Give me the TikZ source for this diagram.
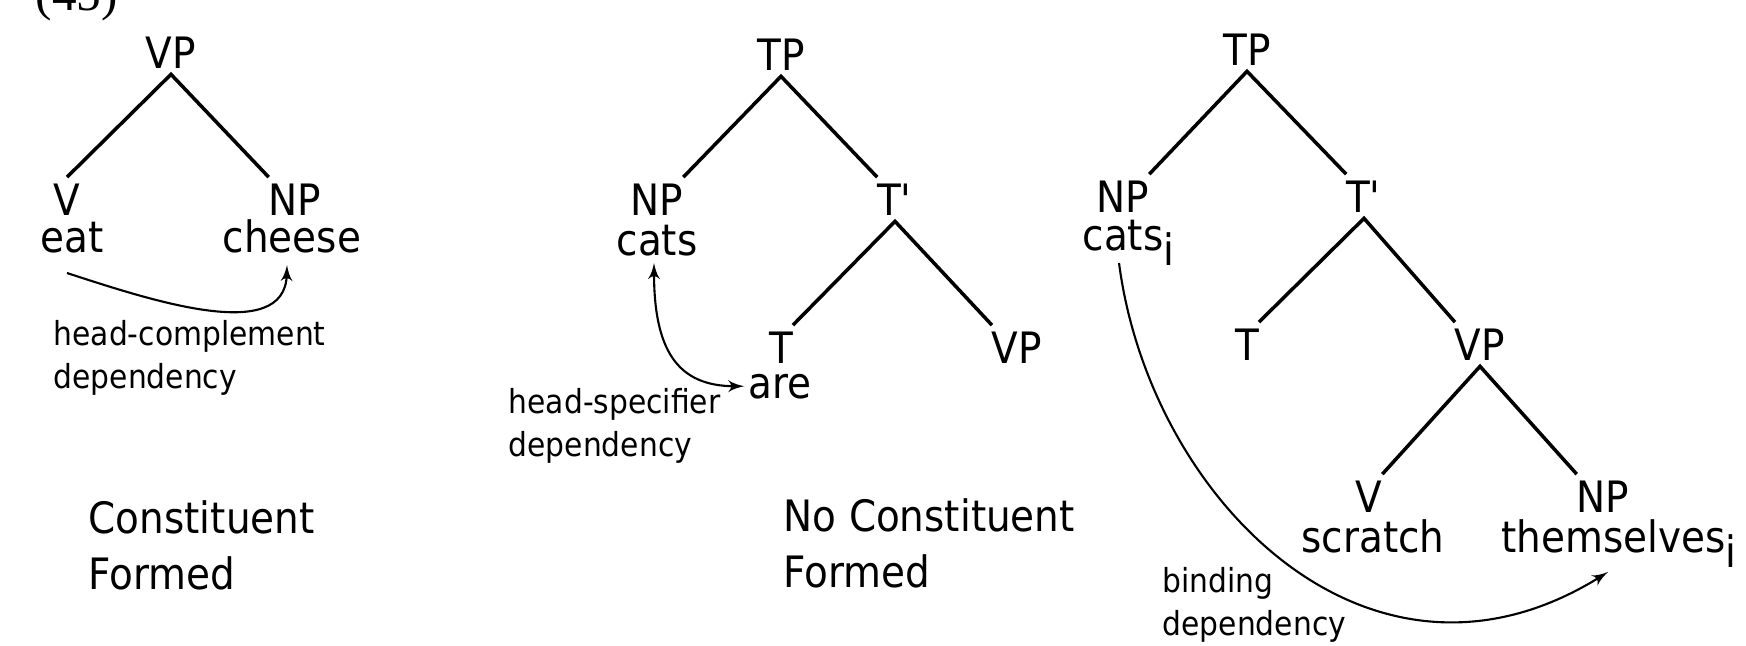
\documentclass[tikz,border=0pt]{standalone}
\usepackage{fontspec}
\setmainfont{DejaVu Sans}[FakeStretch=0.9]
\newfontfamily\exfont{Liberation Serif}
\usepackage{tikz}
\usetikzlibrary{arrows}

\newcommand\treefont{\fontsize{12.3}{15}\selectfont}
\newcommand\notefont{\fontsize{9.4}{12.2}\selectfont}
\newcommand\capfont{\fontsize{12.3}{15.8}\selectfont}
\newcommand\idx{\raisebox{-0.35em}{i}}

\begin{document}
\begin{tikzpicture}[>=latex', x=0.01cm, y=-0.01cm,
  cat/.style={font=\treefont, inner sep=0pt, outer xsep=0pt, outer ysep=1.8pt, anchor=base},
  word/.style={font=\treefont, inner sep=0pt, anchor=base},
  note/.style={font=\notefont, inner sep=0pt, align=left, anchor=north west},
  caption/.style={font=\capfont, inner sep=0pt, align=left, anchor=north west},
  branch/.style={line width=1pt},
  dep/.style={line width=0.6pt}]
  \useasboundingbox (0,0) rectangle (1746,645);
  \node[anchor=base west, inner sep=0pt, font=\exfont\fontsize{14}{16}\selectfont] (exnum) at (35,10) {(45)};

  % constituent formed
  \node[cat] (vp1) at (171,68) {VP};
  \node[cat] (v1) at (67,215) {V};
  \node[cat] (np1) at (295,215) {NP};
  \node[word] (eat) at (72,252) {eat};
  \node[word] (cheese) at (292,252) {cheese};
  \draw[branch] (v1.north) -- (vp1.south) -- (np1.north west);
  \draw[dep,->] ([shift={(-5,21)}]eat.base) .. controls +(83,27) and +(-2,80) .. ([shift={(-5,13)}]cheese.base);
  \node[note] (hc) at (53,320) {head-complement\\dependency};
  \node[caption] (form1) at (88,500) {Constituent\\Formed};

  % no constituent formed
  \node[cat] (tp2) at (781,70) {TP};
  \node[cat] (np2) at (657,215) {NP};
  \node[word] (cats2) at (657,255) {cats};
  \node[cat] (tb2) at (895,215) {T\textquotesingle};
  \node[cat] (t2) at (781,363) {T};
  \node[word] (are) at (780,398) {are};
  \node[cat] (vp2) at (1017,363) {VP};
  \draw[branch] (np2.north east) -- (tp2.south) -- (tb2.north west);
  \draw[branch] (t2.north east) -- (tb2.south) -- (vp2.north west);
  \draw[dep,<->] ([shift={(-3,8)}]cats2.base) .. controls +(0,87) and +(-67,0) .. ([xshift=-1pt]are.west);
  \node[note] (hs) at (508,388) {head-specifier\\dependency};
  \node[caption] (form2) at (783,498) {No Constituent\\Formed};

  % binding
  \node[cat] (tp3) at (1247,65) {TP};
  \node[cat] (np3) at (1123,212) {NP};
  \node[word, anchor=base west] (cats3) at (1082,250) {cats\idx};
  \node[cat] (tb3) at (1364,212) {T\textquotesingle};
  \node[cat] (t3) at (1247,360) {T};
  \node[cat] (vp3) at (1480,360) {VP};
  \node[cat] (v3) at (1369,512) {V};
  \node[word] (scratch) at (1373,552) {scratch};
  \node[cat] (np4) at (1603,512) {NP};
  \node[word, anchor=base west] (themselves) at (1501,552) {themselves\idx};
  \draw[branch] (np3.north east) -- (tp3.south) -- (tb3.north west);
  \draw[branch] (t3.north east) -- (tb3.south) -- (vp3.north west);
  \draw[branch] (v3.north east) -- (vp3.south) -- (np4.north west);
  \draw[dep,->] ([shift={(37,13)}]cats3.base west) .. controls +(31,237) and +(-238,148) .. ([shift={(107,20)}]themselves.base west);
  \node[note] (bd) at (1162,567) {binding\\dependency};
\end{tikzpicture}
\end{document}
